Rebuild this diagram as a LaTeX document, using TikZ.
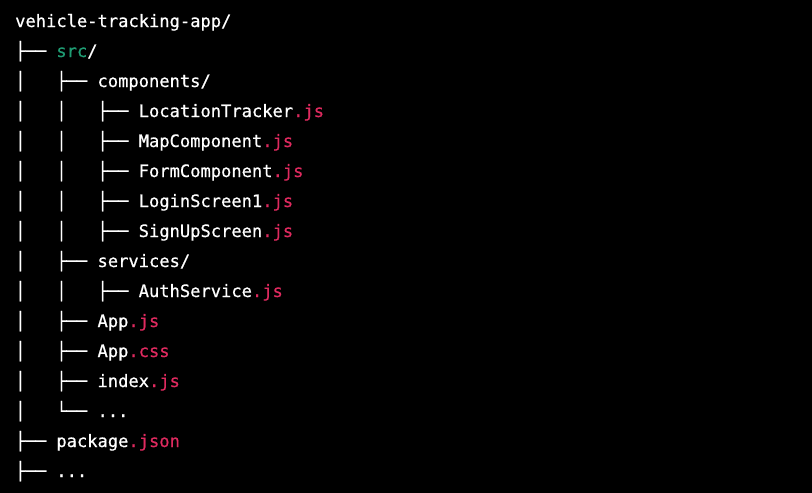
\documentclass[tikz,border=0pt]{standalone}
\usepackage{fontspec}
\newfontfamily\codefont[FakeBold=0.6]{DejaVu Sans Mono}
\definecolor{dirgreen}{HTML}{1F9C73}
\definecolor{extpink}{HTML}{DF2A5F}
\newcommand{\ext}[1]{\textcolor{extpink}{#1}}
\tikzset{codeline/.style={anchor=base west, inner sep=0pt, text=white, font=\codefont\fontsize{17.1}{20}\selectfont}}
\begin{document}
\begin{tikzpicture}[x=1pt,y=1pt]
\fill[black] (0,0) rectangle (812,-493);
\useasboundingbox (0,0) rectangle (812,-493);
\node[codeline] (l1)  at (15,-27)  {vehicle-tracking-app/};
\node[codeline] (l2)  at (15,-57)  {├──~\textcolor{dirgreen}{src}/};
\node[codeline] (l3)  at (15,-87)  {│~~~├──~components/};
\node[codeline] (l4)  at (15,-117) {│~~~│~~~├──~LocationTracker\ext{.js}};
\node[codeline] (l5)  at (15,-147) {│~~~│~~~├──~MapComponent\ext{.js}};
\node[codeline] (l6)  at (15,-177) {│~~~│~~~├──~FormComponent\ext{.js}};
\node[codeline] (l7)  at (15,-207) {│~~~│~~~├──~LoginScreen1\ext{.js}};
\node[codeline] (l8)  at (15,-237) {│~~~│~~~├──~SignUpScreen\ext{.js}};
\node[codeline] (l9)  at (15,-267) {│~~~├──~services/};
\node[codeline] (l10) at (15,-297) {│~~~│~~~├──~AuthService\ext{.js}};
\node[codeline] (l11) at (15,-327) {│~~~├──~App\ext{.js}};
\node[codeline] (l12) at (15,-357) {│~~~├──~App\ext{.css}};
\node[codeline] (l13) at (15,-387) {│~~~├──~index\ext{.js}};
\node[codeline] (l14) at (15,-417) {│~~~└──~...};
\node[codeline] (l15) at (15,-447) {├──~package\ext{.json}};
\node[codeline] (l16) at (15,-477) {├──~...};
\end{tikzpicture}
\end{document}
